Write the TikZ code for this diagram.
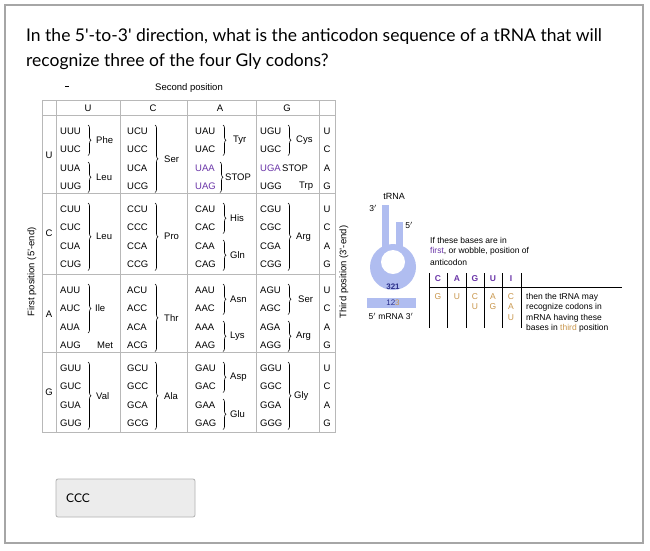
\documentclass[tikz,border=0pt]{standalone}
\usepackage{fontspec}
\setmainfont{Liberation Sans}
\newfontfamily\latof{Lato}
\usetikzlibrary{decorations.pathreplacing}
\definecolor{purp}{HTML}{6A35A8}
\definecolor{tan}{HTML}{C8954A}
\definecolor{lav}{HTML}{B0BDF0}
\definecolor{dblue}{HTML}{2A2F8A}
\definecolor{gridc}{HTML}{B8B8B8}
\tikzset{
 cod/.style={anchor=west,font=\fontsize{9.5}{10}\selectfont,inner sep=0pt},
 aa/.style={anchor=west,font=\fontsize{9.5}{10}\selectfont,inner sep=0pt},
 lett/.style={font=\fontsize{9.5}{10}\selectfont,inner sep=0pt},
 brc/.style={decorate,decoration={brace,amplitude=3pt},line width=0.6pt},
 sm/.style={anchor=west,font=\fontsize{8.5}{9}\selectfont,inner sep=0pt},
 grid/.style={draw=gridc,line width=0.8pt}
}
\newcommand\ly[2]{#1+16+18.5*(#2-1)}
\newcommand\grp[6]{% bracex, top, i1, i2, labelx, label
 \draw[brc] (#1,{\ly{#2}{#3}-6}) -- (#1,{\ly{#2}{#4}+6});
 \node[aa] at (#5,{(\ly{#2}{#3}+\ly{#2}{#4})/2}) {#6};}
\newcommand\codcol[3]{% x, top, prefix
 \foreach \b [count=\i] in {U,C,A,G} {\node[cod] at (#1,{\ly{#2}{\i}}) {#3\b};}}
\begin{document}
\begin{tikzpicture}[x=1pt,y=-1pt]
\useasboundingbox (0,0) rectangle (650,550);
\fill[white] (0,0) rectangle (650,550);
\draw[gray!70,line width=1.2pt] (5,5) rectangle (643,543);
\node[anchor=west,font=\latof\fontsize{17.5}{19}\selectfont,inner sep=0pt] at (26,37) {In the 5'-to-3' direction, what is the anticodon sequence of a tRNA that will};
\node[anchor=west,font=\latof\fontsize{17.5}{19}\selectfont,inner sep=0pt] at (26,62) {recognize three of the four Gly codons?};
% table
\node[lett] (sp) at (189,88) {Second position};
\draw[line width=0.8pt] (65,86) -- (69,86);
\draw[grid] (42,100) rectangle (335,432);
\foreach \x in {56,120,187,256,319} \draw[grid] (\x,100) -- (\x,432);
\foreach \y in {115,193,274,352} \draw[grid] (42,\y) -- (335,\y);
\foreach \l/\x in {U/88,C/153,A/220,G/287} \node[lett] at (\x,108) {\l};
\foreach \l/\t in {U/115,C/193,A/274,G/352} {
  \node[lett] at (49,{\t+40}) {\l};
  \foreach \b [count=\i] in {U,C,A,G} \node[lett] at (327,{\ly{\t}{\i}}) {\b};
}
\node[lett,rotate=90] at (32,272) {First position (5'-end)};
\node[lett,rotate=90] at (344,272) {Third position (3'-end)};
% U row
\codcol{60}{115}{UU}
\grp{88}{115}{1}{2}{96}{Phe}\grp{88}{115}{3}{4}{96}{Leu}
\codcol{127}{115}{UC}
\grp{155}{115}{1}{4}{164}{Ser}
\node[cod] at (195,{\ly{115}{1}}) {UAU};
\node[cod] at (195,{\ly{115}{2}}) {UAC};
\node[cod,text=purp] at (195,{\ly{115}{3}}) {UAA};
\node[cod,text=purp] at (195,{\ly{115}{4}}) {UAG};
\grp{223}{115}{1}{2}{233}{Tyr}\grp{220}{115}{3}{4}{225}{STOP}
\node[cod] at (260,{\ly{115}{1}}) {UGU};
\node[cod] at (260,{\ly{115}{2}}) {UGC};
\node[cod,text=purp] at (260,{\ly{115}{3}}) {UGA};
\node[aa] at (282,{\ly{115}{3}}) {STOP};
\node[cod] at (260,{\ly{115}{4}}) {UGG};
\node[aa] at (299,{\ly{115}{4}}) {Trp};
\grp{288}{115}{1}{2}{296}{Cys}
% C row
\codcol{60}{193}{CU}\grp{88}{193}{1}{4}{96}{Leu}
\codcol{127}{193}{CC}\grp{155}{193}{1}{4}{164}{Pro}
\codcol{195}{193}{CA}\grp{223}{193}{1}{2}{230}{His}\grp{223}{193}{3}{4}{230}{Gln}
\codcol{260}{193}{CG}\grp{288}{193}{1}{4}{296}{Arg}
% A row
\codcol{60}{274}{AU}\grp{88}{274}{1}{3}{95}{Ile}
\node[aa] at (97,{\ly{274}{4}}) {Met};
\codcol{127}{274}{AC}\grp{155}{274}{1}{4}{164}{Thr}
\codcol{195}{274}{AA}\grp{223}{274}{1}{2}{230}{Asn}\grp{223}{274}{3}{4}{230}{Lys}
\codcol{260}{274}{AG}\grp{288}{274}{1}{2}{298}{Ser}\grp{288}{274}{3}{4}{296}{Arg}
% G row
\codcol{60}{352}{GU}\grp{88}{352}{1}{4}{96}{Val}
\codcol{127}{352}{GC}\grp{155}{352}{1}{4}{164}{Ala}
\codcol{195}{352}{GA}\grp{223}{352}{1}{2}{230}{Asp}\grp{223}{352}{3}{4}{230}{Glu}
\codcol{260}{352}{GG}\grp{288}{352}{1}{4}{294}{Gly}
% tRNA
\node[lett,font=\fontsize{9}{10}\selectfont] at (394,196) {tRNA};
\fill[lav] (382,205) rectangle (389,255);
\fill[lav] (396,222) rectangle (403,255);
\fill[lav] (393,267) circle (23);
\fill[white] (393,262) circle (12);
\node[lett,font=\bfseries\fontsize{8}{8}\selectfont,text=dblue] at (393,287) {321};
\fill[lav] (367,298) rectangle (416,308);
\node[lett,font=\fontsize{8}{8}\selectfont,text=dblue] at (393,303) {12\textcolor{tan}{3}};
\node[lett,font=\fontsize{8.5}{9}\selectfont] at (391,316) {5$'$ mRNA 3$'$};
\node[lett,font=\fontsize{8.5}{9}\selectfont] at (373,208) {3$'$};
\node[lett,font=\fontsize{8.5}{9}\selectfont] at (409,225) {5$'$};
% wobble table
\node[sm] at (430,240) {If these bases are in};
\node[sm] at (430,251) {\textcolor{purp}{first}, or wobble, position of};
\node[sm] at (430,262) {anticodon};
\foreach \x in {429,447,466,484,502,521} \draw[line width=0.7pt] (\x,273) -- (\x,328);
\draw[line width=0.7pt] (429,287) -- (622,287);
\foreach \l/\x in {C/438,A/457,G/475,U/493,I/511} \node[lett,font=\bfseries\fontsize{8.5}{9}\selectfont,text=purp] at (\x,279) {\l};
\begin{scope}[every node/.style={lett,font=\fontsize{8.5}{9}\selectfont,text=tan}]
\node at (438,297) {G}; \node at (457,297) {U};
\node at (475,297) {C}; \node at (475,307) {U};
\node at (493,297) {A}; \node at (493,307) {G};
\node at (511,297) {C}; \node at (511,307) {A}; \node at (511,318) {U};
\end{scope}
\node[sm] at (526,297) {then the tRNA may};
\node[sm] at (526,307) {recognize codons in};
\node[sm] at (526,318) {mRNA having these};
\node[sm] at (526,328) {bases in \textcolor{tan}{third} position};
% answer box
\draw[draw=gray!60,fill=gray!15,rounded corners=2pt,line width=0.8pt] (56,479) rectangle (195,517);
\node[anchor=west,font=\latof\fontsize{12}{13}\selectfont,inner sep=0pt] at (66,498) {CCC};
\end{tikzpicture}
\end{document}
